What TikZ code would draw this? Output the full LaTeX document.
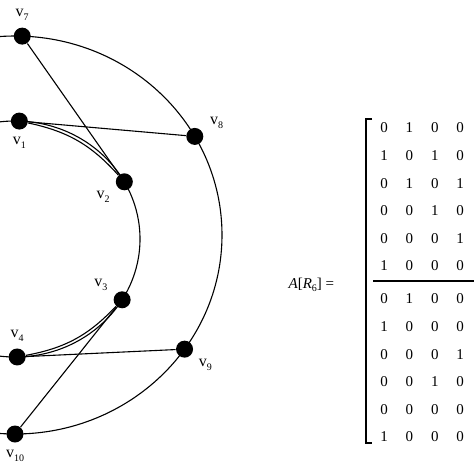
\documentclass[tikz,border=0pt]{standalone}
\usepackage{fontspec}
\setmainfont{Liberation Serif}
\usetikzlibrary{calc}
\usetikzlibrary{positioning}

\newcommand{\vname}[1]{v\raisebox{-0.55ex}{\fontsize{10}{10}\selectfont #1}}

\begin{document}
\begin{tikzpicture}[x=1pt, y=1pt, line width=1.1pt]
    \tikzstyle{vertex}=[circle, fill=black, inner sep=0pt, minimum size=17pt]
    \tikzstyle{vlabel}=[font=\fontsize{16}{16}\selectfont, label distance=3pt]
    \tikzstyle{entry}=[font=\fontsize{15}{15}\selectfont, inner sep=0pt]
    \clip (0,0) rectangle (474,-474);
    % the two rings
    \coordinate (ci) at (15,-239);
    \coordinate (co) at (15,-235);
    \draw (ci) ellipse [x radius=125, y radius=118];
    \draw (co) ellipse [x radius=207, y radius=199];
    % vertices on the inner ring
    \node[vertex, label={[vlabel]below:\vname{1}}] (v1) at ($(ci)+(88:125 and 118)$) {};
    \node[vertex, label={[vlabel]205:\vname{2}}] (v2) at ($(ci)+(29:125 and 118)$) {};
    \node[vertex, label={[vlabel]155:\vname{3}}] (v3) at ($(ci)+(-31:125 and 118)$) {};
    \node[vertex, label={[vlabel]above:\vname{4}}] (v4) at ($(ci)+(-89:125 and 118)$) {};
    % vertices on the outer ring
    \node[vertex, label={[vlabel]above:\vname{7}}] (v7) at ($(co)+(88:207 and 199)$) {};
    \node[vertex, label={[vlabel]20:\vname{8}}] (v8) at ($(co)+(29.7:207 and 199)$) {};
    \node[vertex, label={[vlabel]-30:\vname{9}}] (v9) at ($(co)+(-35:207 and 199)$) {};
    \node[vertex, label={[vlabel]below:\vname{10}}] (v10) at ($(co)+(-90:207 and 199)$) {};
    % edges
    \draw (v7) -- (v2);
    \draw (v1) -- (v8);
    \draw (v1) to[bend left=18] (v2);
    \draw (v3) to[bend left=18] (v4);
    \draw (v3) -- (v10);
    \draw (v4) -- (v9);
    % adjacency matrix
    \node[font=\fontsize{15}{15}\selectfont, anchor=east] (name) at (338,-285)
      {\textit{A}[\textit{R}\raisebox{-0.5ex}{\fontsize{10}{10}\selectfont 6}] =};
    \draw[line width=1.4pt] (372,-119) -- (366,-119) -- (366,-443) -- (372,-443);
    \draw[line width=1.2pt] (373,-281) -- (474,-281);
    \foreach \row [count=\r] in {{0,1,0,0},{1,0,1,0},{0,1,0,1},{0,0,1,0},{0,0,0,1},{1,0,0,0},
                                 {0,1,0,0},{1,0,0,0},{0,0,0,1},{0,0,1,0},{0,0,0,0},{1,0,0,0}} {
      \pgfmathsetmacro\ry{-(128+27.6*(\r-1)+5.4*(\r>6))}
      \foreach \e [count=\c] in \row {
        \pgfmathsetmacro\cx{384+25.4*(\c-1)}
        \node[entry] (m-\r-\c) at (\cx,\ry) {\e};
      }
    }
\end{tikzpicture}
\end{document}
